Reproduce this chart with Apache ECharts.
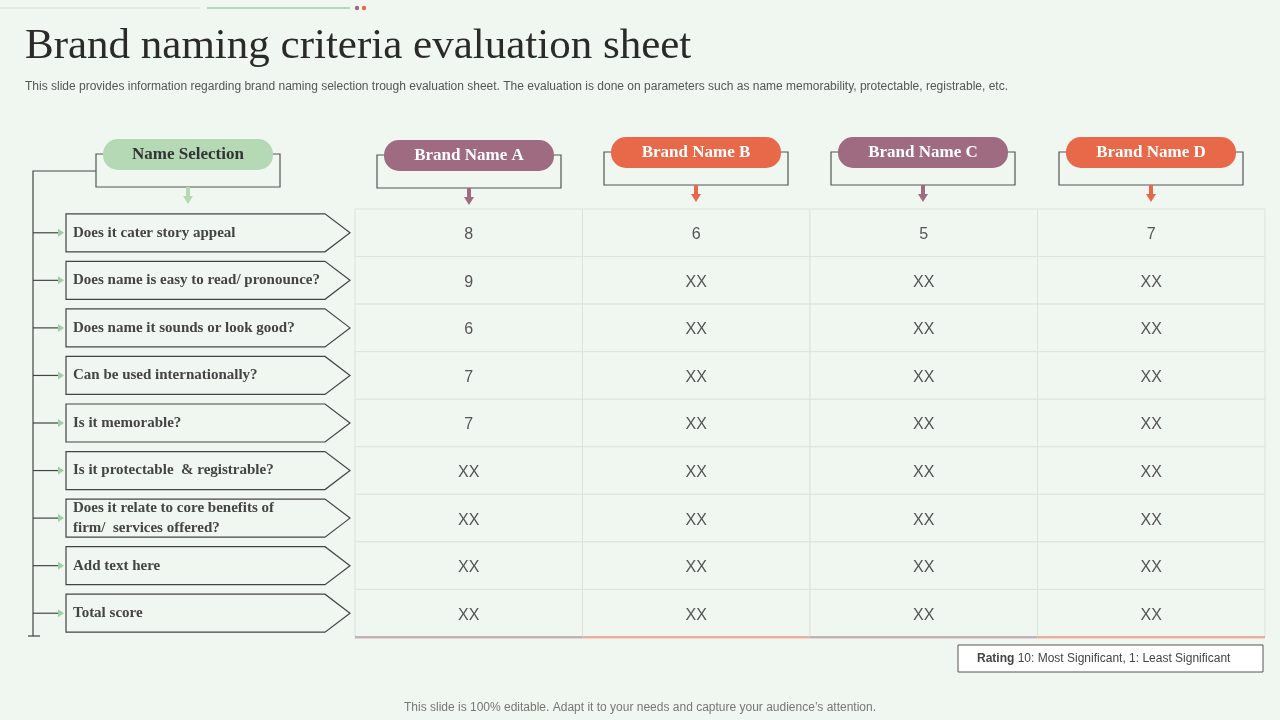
<!DOCTYPE html>
<html>
<head>
<meta charset="utf-8">
<script src="https://cdn.jsdelivr.net/npm/echarts@6/dist/echarts.min.js"></script>
<style>
  html, body { margin: 0; padding: 0; background: #f0f6f0; }
  #chart { width: 1280px; height: 720px; }
</style>
</head>
<body>
<div id="chart"></div>
<script>
// Table data
const brands = ['Brand Name A', 'Brand Name B', 'Brand Name C', 'Brand Name D'];
const criteria = [
    'Does it cater story appeal',
    'Does name is easy to read/ pronounce?',
    'Does name it sounds or look good?',
    'Can be used internationally?',
    'Is it memorable?',
    'Is it protectable  & registrable?',
    'Does it relate to core benefits of\nfirm/  services offered?',
    'Add text here',
    'Total score'
];
const scoresA = ['8', '9', '6', '7', '7', 'XX', 'XX', 'XX', 'XX'];
const scoresB = ['6', 'XX', 'XX', 'XX', 'XX', 'XX', 'XX', 'XX', 'XX'];
const scoresC = ['5', 'XX', 'XX', 'XX', 'XX', 'XX', 'XX', 'XX', 'XX'];
const scoresD = ['7', 'XX', 'XX', 'XX', 'XX', 'XX', 'XX', 'XX', 'XX'];

const brandColors = ['#9e6b80', '#e8694a', '#9e6b80', '#e8694a'];
const serif = '"Liberation Serif", "DejaVu Serif", serif';
const sans = '"Liberation Sans", Arial, sans-serif';

const chart = echarts.init(document.getElementById('chart'));

const cellData = [];
[scoresA, scoresB, scoresC, scoresD].forEach((col, ci) => {
    col.forEach((v, ri) => cellData.push([ci, ri, v]));
});

const TOP = 209, BOTTOM = 720 - 637;

// header pills with bracket + arrow
function header(cx, pillTop, color, text, textColor) {
    const w = 170, h = 31;
    const bTop = pillTop + 15, bBot = pillTop + 48;
    return [
        { type: 'polyline', shape: { points: [[cx - w / 2 + 6, bTop], [cx - 92, bTop], [cx - 92, bBot], [cx + 92, bBot], [cx + 92, bTop], [cx + w / 2 - 6, bTop]] },
          style: { stroke: '#555', lineWidth: 1.2, fill: null } },
        { type: 'rect', shape: { x: cx - w / 2, y: pillTop, width: w, height: h, r: 15 }, style: { fill: color } },
        { type: 'text', x: cx, y: pillTop + h / 2, style: { text, fill: textColor, font: 'bold 17px ' + serif, align: 'center', verticalAlign: 'middle' } },
        { type: 'rect', shape: { x: cx - 2, y: bBot, width: 4, height: 10 }, style: { fill: color } },
        { type: 'polygon', shape: { points: [[cx - 5, bBot + 9], [cx + 5, bBot + 9], [cx, bBot + 17]] }, style: { fill: color } }
    ];
}

const graphics = [
    { type: 'line', shape: { x1: 0, y1: 8, x2: 200, y2: 8 }, style: { stroke: '#d5e3d5', lineWidth: 1 } },
    { type: 'line', shape: { x1: 207, y1: 8, x2: 350, y2: 8 }, style: { stroke: '#b5d8b5', lineWidth: 2 } },
    { type: 'circle', shape: { cx: 357, cy: 8, r: 2.2 }, style: { fill: '#9e6b80' } },
    { type: 'circle', shape: { cx: 364, cy: 8, r: 2.2 }, style: { fill: '#e8694a' } },
    { type: 'text', x: 25, y: 47, style: { text: 'Brand naming criteria evaluation sheet', fill: '#2a2a2a', font: '43px ' + serif, verticalAlign: 'middle' } },
    { type: 'text', x: 25, y: 87, style: { text: 'This slide provides information regarding brand naming selection trough evaluation sheet. The evaluation is done on parameters such as name memorability, protectable, registrable, etc.', fill: '#555', font: '12px ' + sans, verticalAlign: 'middle' } },
    // left trunk line
    { type: 'polyline', shape: { points: [[96, 171], [33, 171], [33, 636]] }, style: { stroke: '#444', lineWidth: 1.2, fill: null } },
    { type: 'line', shape: { x1: 28, y1: 636, x2: 40, y2: 636 }, style: { stroke: '#444', lineWidth: 1.2 } },
    // rating box
    { type: 'rect', shape: { x: 958, y: 645, width: 305, height: 27 }, style: { fill: '#fff', stroke: '#555', lineWidth: 1 } },
    { type: 'text', x: 977, y: 659, style: { rich: { b: { font: 'bold 12px ' + sans, fill: '#444' }, n: { font: '12px ' + sans, fill: '#444' } }, text: '{b|Rating} {n|10: Most Significant, 1: Least Significant}', verticalAlign: 'middle' } },
    { type: 'text', x: 640, y: 708, style: { text: 'This slide is 100% editable. Adapt it to your needs and capture your audience\u2019s attention.', fill: '#777', font: '12px ' + sans, align: 'center', verticalAlign: 'middle' } }
];
graphics.push(...header(188, 139, '#b5d8b5', 'Name Selection', '#333'));
const brandCenters = [469, 696, 923, 1151];
const pillTops = [140, 137, 137, 137];
brands.forEach((b, i) => graphics.push(...header(brandCenters[i], pillTops[i], brandColors[i], b, '#fff')));

chart.setOption({
    animation: false,
    backgroundColor: '#f0f6f0',
    grid: [
        { left: 355, right: 15, top: TOP, bottom: BOTTOM },
        { left: 33, width: 317, top: TOP, bottom: BOTTOM }
    ],
    xAxis: [
        { type: 'category', data: brands, gridIndex: 0, show: false },
        { type: 'category', data: ['Criteria'], gridIndex: 1, show: false }
    ],
    yAxis: [
        { type: 'category', data: criteria, inverse: true, gridIndex: 0, show: false },
        { type: 'category', data: criteria, inverse: true, gridIndex: 1, show: false }
    ],
    graphic: graphics,
    series: [
        {
            type: 'custom',
            xAxisIndex: 0, yAxisIndex: 0,
            data: cellData,
            renderItem(params, api) {
                const c = api.coord([api.value(0), api.value(1)]);
                const s = api.size([1, 1]);
                const ci = api.value(0), ri = api.value(1);
                const children = [
                    { type: 'rect', shape: { x: c[0] - s[0] / 2, y: c[1] - s[1] / 2, width: s[0], height: s[1] },
                      style: { fill: '#f0f6f0', stroke: '#dbe4db', lineWidth: 1 } },
                    { type: 'text', x: c[0], y: c[1] + 2, style: { text: cellData[params.dataIndex][2], fill: '#555', font: '16px ' + sans, align: 'center', verticalAlign: 'middle' } }
                ];
                if (ri === criteria.length - 1) {
                    children.push({ type: 'rect', shape: { x: c[0] - s[0] / 2, y: c[1] + s[1] / 2 - 1, width: s[0], height: 2.5 },
                        style: { fill: brandColors[ci], opacity: 0.45 } });
                }
                return { type: 'group', children };
            }
        },
        {
            type: 'custom',
            xAxisIndex: 1, yAxisIndex: 1,
            data: criteria.map((t, i) => [0, i]),
            renderItem(params, api) {
                const c = api.coord([0, api.value(1)]);
                const y = c[1], x0 = 66, x1 = 325, x2 = 350, h = 38;
                return {
                    type: 'group',
                    children: [
                        { type: 'line', shape: { x1: 33, y1: y, x2: 62, y2: y }, style: { stroke: '#444', lineWidth: 1.2 } },
                        { type: 'polygon', shape: { points: [[58, y - 4], [64, y], [58, y + 4]] }, style: { fill: '#9fd09f' } },
                        { type: 'polygon', shape: { points: [[x0, y - h / 2], [x1, y - h / 2], [x2, y], [x1, y + h / 2], [x0, y + h / 2]] },
                          style: { fill: '#f0f6f0', stroke: '#444', lineWidth: 1.2 } },
                        { type: 'text', x: 73, y: y, style: { text: criteria[params.dataIndex], fill: '#444', font: 'bold 15px ' + serif, lineHeight: 20, verticalAlign: 'middle' } }
                    ]
                };
            }
        }
    ]
});
</script>
</body>
</html>
